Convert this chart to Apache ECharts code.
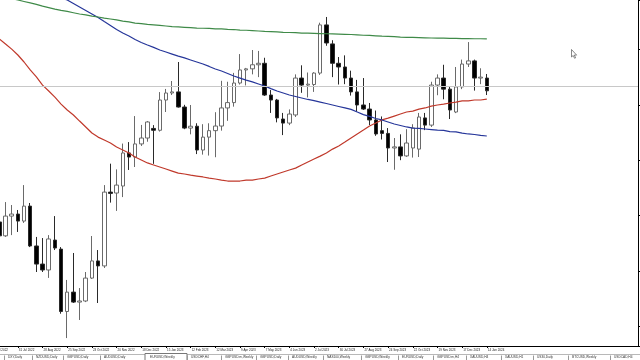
<!DOCTYPE html>
<html><head><meta charset="utf-8">
<script src="https://cdn.jsdelivr.net/npm/echarts@6/dist/echarts.min.js"></script>
<style>html,body{margin:0;padding:0;background:#fff}#c{width:640px;height:360px}</style>
</head><body><div id="c"></div><script>
// EURUSD, Weekly
const dates = [
 "3 Jul 2022","10 Jul 2022","17 Jul 2022","24 Jul 2022","31 Jul 2022","7 Aug 2022","14 Aug 2022","21 Aug 2022","28 Aug 2022",
 "4 Sep 2022","11 Sep 2022","18 Sep 2022","25 Sep 2022","2 Oct 2022","9 Oct 2022","16 Oct 2022","23 Oct 2022","30 Oct 2022",
 "6 Nov 2022","13 Nov 2022","20 Nov 2022","27 Nov 2022","4 Dec 2022","11 Dec 2022","18 Dec 2022","25 Dec 2022",
 "1 Jan 2023","8 Jan 2023","15 Jan 2023","22 Jan 2023","29 Jan 2023","5 Feb 2023","12 Feb 2023","19 Feb 2023","26 Feb 2023",
 "5 Mar 2023","12 Mar 2023","19 Mar 2023","26 Mar 2023","2 Apr 2023","9 Apr 2023","16 Apr 2023","23 Apr 2023","30 Apr 2023",
 "7 May 2023","14 May 2023","21 May 2023","28 May 2023","4 Jun 2023","11 Jun 2023","18 Jun 2023","25 Jun 2023",
 "2 Jul 2023","9 Jul 2023","16 Jul 2023","23 Jul 2023","30 Jul 2023","6 Aug 2023","13 Aug 2023","20 Aug 2023","27 Aug 2023",
 "3 Sep 2023","10 Sep 2023","17 Sep 2023","24 Sep 2023","1 Oct 2023","8 Oct 2023","15 Oct 2023","22 Oct 2023","29 Oct 2023",
 "5 Nov 2023","12 Nov 2023","19 Nov 2023","26 Nov 2023","3 Dec 2023","10 Dec 2023","17 Dec 2023","24 Dec 2023","31 Dec 2023",
 "7 Jan 2024","14 Jan 2024"
];
const open = [
 1.0425,1.0165,1.0090,1.0197,1.0208,1.0170,1.0251,1.0035,0.9937,
 0.9905,1.0067,1.0018,0.9680,0.9785,0.9731,0.9737,0.9861,0.9954,
 0.9927,1.0327,1.0322,1.0360,1.0539,1.0517,1.0588,1.0620,
 1.0672,1.0662,1.0826,1.0864,1.0870,1.0788,1.0674,1.0684,1.0555,
 1.0625,1.0660,1.0685,1.0783,1.0812,1.0918,1.0989,1.0995,1.1017,
 1.1025,1.0853,1.0826,1.0723,1.0701,1.0745,1.0945,1.0907,
 1.0910,1.0972,1.1233,1.1130,1.1025,1.1005,1.0945,1.0870,1.0799,
 1.0777,1.0718,1.0660,1.0645,1.0566,1.0572,1.0523,1.0566,1.0560,
 1.0729,1.0690,1.0907,1.0945,1.0885,1.0761,1.0897,1.1021,1.1038,
 1.0945,1.0945
];
const high = [
 1.0463,1.0200,1.0273,1.0257,1.0230,1.0365,1.0268,1.0084,1.0078,
 1.0094,1.0197,1.0029,0.9851,0.9997,0.9807,0.9894,1.0089,1.0013,
 1.0365,1.0481,1.0450,1.0590,1.0598,1.0739,1.0691,1.0712,
 1.0690,1.0869,1.0886,1.0929,1.1032,1.0800,1.0799,1.0700,1.0695,
 1.0700,1.0760,1.0930,1.0925,1.0973,1.1075,1.1000,1.1097,1.1092,
 1.1055,1.0880,1.0832,1.0756,1.0775,1.0965,1.1014,1.0975,
 1.0977,1.1245,1.1276,1.1150,1.1059,1.1068,1.0985,1.0935,1.0945,
 1.0810,1.0769,1.0737,1.0674,1.0620,1.0640,1.0668,1.0695,1.0756,
 1.0756,1.0925,1.0965,1.1017,1.0897,1.1005,1.1045,1.1140,1.1045,
 1.0998,1.0967
];
const low = [
 1.0072,0.9952,1.0084,1.0094,1.0111,1.0160,1.0029,0.9894,0.9894,
 0.9862,1.0013,0.9668,0.9536,0.9726,0.9634,0.9731,0.9856,0.9726,
 0.9916,1.0270,1.0225,1.0300,1.0447,1.0463,1.0577,1.0600,
 1.0480,1.0655,1.0761,1.0853,1.0785,1.0668,1.0640,1.0533,1.0530,
 1.0525,1.0516,1.0660,1.0713,1.0790,1.0910,1.0905,1.0965,1.0950,
 1.0848,1.0756,1.0705,1.0636,1.0690,1.0734,1.0865,1.0840,
 1.0870,1.0962,1.1120,1.0950,1.0910,1.0912,1.0850,1.0763,1.0772,
 1.0690,1.0632,1.0612,1.0490,1.0448,1.0500,1.0518,1.0514,1.0517,
 1.0663,1.0680,1.0852,1.0830,1.0723,1.0755,1.0885,1.1005,1.0877,
 1.0912,1.0853
];
const close = [
 1.0180,1.0090,1.0197,1.0208,1.0170,1.0251,1.0035,0.9937,0.9905,
 1.0073,1.0024,0.9680,0.9785,0.9731,0.9737,0.9861,0.9954,0.9927,
 1.0327,1.0320,1.0365,1.0539,1.0517,1.0588,1.0620,1.0707,
 1.0662,1.0826,1.0864,1.0870,1.0788,1.0674,1.0684,1.0555,1.0625,
 1.0660,1.0685,1.0783,1.0812,1.0918,1.0989,1.0995,1.1017,1.1025,
 1.0853,1.0826,1.0729,1.0701,1.0750,1.0945,1.0907,1.0912,
 1.0972,1.1233,1.1135,1.1025,1.1005,1.0945,1.0870,1.0799,1.0777,
 1.0718,1.0642,1.0645,1.0566,1.0572,1.0523,1.0593,1.0675,1.0734,
 1.0690,1.0907,1.0945,1.0885,1.0772,1.0897,1.1021,1.1038,1.0945,
 1.0950,1.0876
];
const maRed = [
 1.1189,1.1157,1.1130,1.1102,1.1070,1.1032,1.0989,1.0951,1.0907,
 1.0875,1.0842,1.0804,1.0772,1.0745,1.0712,1.0680,1.0647,1.0625,
 1.0609,1.0593,1.0571,1.0555,1.0539,1.0517,1.0501,1.0485,
 1.0474,1.0463,1.0452,1.0441,1.0430,1.0425,1.0419,1.0414,1.0409,
 1.0403,1.0398,1.0392,1.0387,1.0387,1.0387,1.0392,1.0392,1.0398,
 1.0403,1.0414,1.0425,1.0436,1.0447,1.0457,1.0474,1.0490,
 1.0506,1.0522,1.0539,1.0560,1.0577,1.0598,1.0620,1.0642,1.0663,
 1.0685,1.0701,1.0718,1.0728,1.0739,1.0750,1.0761,1.0766,1.0777,
 1.0783,1.0793,1.0799,1.0804,1.0810,1.0815,1.0821,1.0821,1.0826,
 1.0826,1.0831
];
const maBlue = [
 1.1606,1.1585,1.1563,1.1541,1.1520,1.1498,1.1476,1.1455,1.1433,
 1.1411,1.1395,1.1379,1.1368,1.1349,1.1330,1.1311,1.1292,1.1273,
 1.1251,1.1230,1.1208,1.1189,1.1173,1.1154,1.1138,1.1124,
 1.1111,1.1097,1.1086,1.1075,1.1064,1.1054,1.1043,1.1032,1.1021,
 1.1008,1.0994,1.0983,1.0970,1.0956,1.0945,1.0934,1.0924,1.0913,
 1.0902,1.0888,1.0875,1.0864,1.0853,1.0845,1.0837,1.0829,
 1.0823,1.0815,1.0807,1.0799,1.0791,1.0783,1.0775,1.0761,1.0747,
 1.0737,1.0726,1.0718,1.0707,1.0696,1.0688,1.0680,1.0674,1.0672,
 1.0669,1.0666,1.0663,1.0661,1.0655,1.0653,1.0647,1.0642,1.0639,
 1.0634,1.0631
];
const maGreen = [
 1.1401,1.1392,1.1384,1.1376,1.1368,1.1360,1.1352,1.1344,1.1335,
 1.1327,1.1319,1.1312,1.1306,1.1299,1.1292,1.1287,1.1281,1.1276,
 1.1270,1.1265,1.1260,1.1254,1.1249,1.1243,1.1240,1.1236,
 1.1233,1.1230,1.1227,1.1224,1.1222,1.1220,1.1218,1.1216,1.1215,
 1.1214,1.1212,1.1211,1.1209,1.1208,1.1205,1.1204,1.1202,1.1200,
 1.1198,1.1197,1.1195,1.1193,1.1192,1.1191,1.1189,1.1188,
 1.1187,1.1186,1.1185,1.1184,1.1183,1.1182,1.1181,1.1179,1.1177,
 1.1176,1.1174,1.1172,1.1171,1.1169,1.1167,1.1166,1.1165,1.1164,
 1.1163,1.1162,1.1161,1.1161,1.1160,1.1160,1.1159,1.1159,1.1158,
 1.1158,1.1157
];
const tabNames = ["s","DXY,Daily","NZDUSD,Daily","GBPUSD,Daily","AUDUSD,Daily","EURUSD,Weekly","USDCHF,H4",
 "GBPUSD.m,Weekly","GBPUSD,Daily","AUDUSD,Weekly","NAS100,Weekly","GBPUSD,Weekly","EURUSD,Daily",
 "GBPUSD.m,H4","XAUUSD,H4","XAUUSD,H1","US30,Daily","BTCUSD,Weekly","USDCAD,H4"];
const activeTab = "EURUSD,Weekly";
const yMin = 0.9493, yMax = 1.1368;
const TOTAL_SLOTS = 105;

const cats = dates.concat(new Array(TOTAL_SLOTS - dates.length).fill(''));
const candles = dates.map((d, i) => [open[i], close[i], low[i], high[i]]);
const showLbl = (i) => i < dates.length && i % 4 === 0;
const FONT = 'Liberation Sans, Arial, sans-serif';

// tab layout
const tabX = [-2,8,36,67,104,150,191,225,260,292,327,365,402,437,470,505,537,572,614];
const g = [];
g.push({type:'line', shape:{x1:0,y1:354.5,x2:640,y2:354.5}, style:{stroke:'#b8b8b8',lineWidth:1}, silent:true});
tabNames.forEach((t, i) => {
  const x = tabX[i];
  if (t === activeTab) {
    g.push({type:'rect', shape:{x:x-5,y:353.5,width:42,height:7}, style:{fill:'#fff',stroke:'#777',lineWidth:1}, z:10});
  } else if (i > 0) {
    g.push({type:'line', shape:{x1:x-3.5,y1:355.5,x2:x-3.5,y2:360}, style:{stroke:'#999',lineWidth:1}, z:10});
  }
  g.push({type:'text', x:x, y:357.6, style:{text:t, fontSize:3.2, fontFamily:FONT, fill:'#333', textVerticalAlign:'middle'}, z:11});
});
// mouse cursor
g.push({type:'polygon', shape:{points:[[571.5,49.5],[571.5,57],[573.2,55.5],[574.6,58.3],[575.6,57.8],[574.3,55.1],[576.6,55.1]]},
  style:{fill:'#fff',stroke:'#555',lineWidth:0.7}, z:20});

const chart = echarts.init(document.getElementById('c'), null, {renderer:'canvas'});
chart.setOption({
  animation: false,
  backgroundColor: '#ffffff',
  grid: {left: -9.9, right: 2, top: 0, bottom: 14, containLabel: false, outerBoundsMode: 'none'},
  xAxis: {
    type: 'category', data: cats, boundaryGap: true,
    axisLine: {show: true, lineStyle: {color: '#000', width: 1}},
    axisTick: {show: true, interval: showLbl, alignWithLabel: true, length: 2, lineStyle: {color: '#000'}},
    axisLabel: {show: true, interval: showLbl, align: 'left', margin: 2.5, fontSize: 3, fontFamily: FONT, color: '#222', padding: [0,0,0,1]},
    splitLine: {show: false}
  },
  yAxis: {
    type: 'value', position: 'right', min: yMin, max: yMax, scale: true,
    axisLine: {show: true, lineStyle: {color: '#000', width: 1}},
    axisTick: {show: true, length: 3, lineStyle: {color: '#000'}},
    axisLabel: {show: false},
    splitLine: {show: false}
  },
  series: [
    {
      type: 'candlestick', data: candles, barWidth: 4,
      itemStyle: {color: '#ffffff', color0: '#000000', borderColor: '#6a6a6a', borderColor0: '#2a2a2a', borderWidth: 1},
      markLine: {
        silent: true, symbol: 'none', animation: false,
        label: {show: false},
        lineStyle: {color: '#c8c8c8', type: 'solid', width: 1},
        data: [{yAxis: close[close.length - 1]}]
      },
      z: 2
    },
    {type: 'line', data: maRed, showSymbol: false, symbol: 'none', lineStyle: {color: '#c0392b', width: 1.2}, z: 3, clip: true},
    {type: 'line', data: maBlue, showSymbol: false, symbol: 'none', lineStyle: {color: '#26369a', width: 1.2}, z: 3, clip: true},
    {type: 'line', data: maGreen, showSymbol: false, symbol: 'none', lineStyle: {color: '#3f8a48', width: 1.2}, z: 3, clip: true}
  ],
  graphic: g
});
</script></body></html>
